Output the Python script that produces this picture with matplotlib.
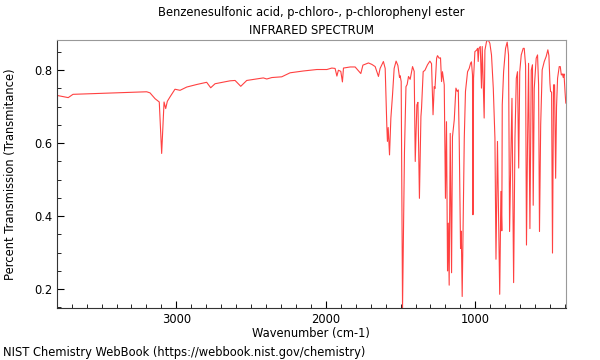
import matplotlib
matplotlib.use("Agg")
import matplotlib.pyplot as plt
from matplotlib.ticker import MultipleLocator
import numpy as np

TITLE = "Benzenesulfonic acid, p-chloro-, p-chlorophenyl ester\nINFRARED SPECTRUM"
FOOTER = "NIST Chemistry WebBook (https://webbook.nist.gov/chemistry)"

# Wavenumber (cm-1) and transmittance.
wavenumber = [
    3798, 3723, 3691, 3198, 3176, 3142, 3114, 3098, 3082, 3071,
    3060, 3042, 3009, 2975, 2930, 2863, 2819, 2797, 2770, 2741,
    2641, 2607, 2569, 2529, 2418, 2395, 2361, 2295, 2239, 2150,
    2060, 1993, 1960, 1938, 1926, 1916, 1900, 1889, 1882, 1837,
    1804, 1766, 1752, 1715, 1692, 1670, 1648, 1637, 1615, 1603,
    1592, 1588, 1583, 1574, 1565, 1554, 1543, 1530, 1518, 1507,
    1503, 1496, 1487, 1474, 1464, 1456, 1447, 1436, 1420, 1409,
    1402, 1391, 1384, 1374, 1364, 1360, 1349, 1337, 1320, 1304,
    1293, 1283, 1275, 1270, 1259, 1253, 1242, 1233, 1226, 1220,
    1208, 1200, 1193, 1186, 1181, 1175, 1168, 1159, 1153, 1141,
    1130, 1121, 1114, 1108, 1099, 1094, 1088, 1081, 1074, 1066,
    1052, 1041, 1032, 1026, 1019, 1016, 1012, 1003, 992, 985,
    981, 976, 967, 959, 954, 941, 936, 925, 914, 903,
    892, 880, 869, 862, 852, 837, 829, 823, 820, 811,
    798, 787, 778, 771, 763, 755, 744, 735, 726, 718,
    710, 703, 693, 680, 673, 664, 658, 651, 644, 635,
    626, 618, 613, 606, 593, 584, 577, 571, 563, 553,
    539, 526, 515, 508, 501, 497, 490, 484, 477, 470,
    463, 457, 450, 439, 432, 425, 418, 412, 407, 400,
    395,
]
transmittance = [
    0.731, 0.725, 0.734, 0.741, 0.738, 0.722, 0.713, 0.572, 0.713, 0.695,
    0.715, 0.727, 0.748, 0.745, 0.754, 0.761, 0.765, 0.767, 0.752, 0.763,
    0.771, 0.772, 0.756, 0.772, 0.779, 0.776, 0.780, 0.782, 0.793, 0.798,
    0.802, 0.802, 0.806, 0.805, 0.784, 0.800, 0.797, 0.768, 0.806, 0.809,
    0.809, 0.791, 0.814, 0.820, 0.816, 0.810, 0.783, 0.805, 0.824, 0.805,
    0.646, 0.605, 0.643, 0.568, 0.669, 0.732, 0.805, 0.825, 0.813, 0.780,
    0.785, 0.769, 0.148, 0.577, 0.755, 0.761, 0.783, 0.775, 0.810, 0.797,
    0.550, 0.705, 0.712, 0.449, 0.673, 0.695, 0.796, 0.800, 0.815, 0.825,
    0.818, 0.678, 0.755, 0.750, 0.833, 0.840, 0.833, 0.834, 0.769, 0.796,
    0.760, 0.449, 0.659, 0.250, 0.381, 0.211, 0.627, 0.245, 0.618, 0.664,
    0.751, 0.742, 0.746, 0.614, 0.312, 0.359, 0.180, 0.395, 0.614, 0.742,
    0.796, 0.805, 0.819, 0.823, 0.787, 0.404, 0.778, 0.851, 0.855, 0.860,
    0.824, 0.860, 0.865, 0.751, 0.865, 0.669, 0.855, 0.879, 0.883, 0.874,
    0.842, 0.751, 0.614, 0.282, 0.605, 0.186, 0.468, 0.360, 0.705, 0.796,
    0.860, 0.877, 0.842, 0.358, 0.550, 0.723, 0.218, 0.614, 0.778, 0.796,
    0.532, 0.796, 0.842, 0.860, 0.860, 0.813, 0.321, 0.600, 0.819, 0.366,
    0.800, 0.815, 0.430, 0.750, 0.833, 0.842, 0.760, 0.358, 0.650, 0.801,
    0.824, 0.838, 0.856, 0.840, 0.764, 0.742, 0.740, 0.299, 0.760, 0.760,
    0.504, 0.700, 0.778, 0.810, 0.810, 0.787, 0.790, 0.780, 0.790, 0.740,
    0.710,
]

FS = 8.3


def plot_spectrum():
    fig = plt.figure(figsize=(6, 3.6), dpi=100)
    ax = fig.add_axes([0.095, 0.144, 0.848, 0.745])

    wn = np.array(wavenumber)
    tr = np.array(transmittance)
    ax.plot(wn, tr, color="#ff2020", linewidth=0.8, alpha=0.85)

    ax.set_xlim(wn.max(), wn.min())
    ax.set_ylim(tr.min(), tr.max())

    ax.xaxis.set_major_locator(MultipleLocator(1000))
    ax.xaxis.set_minor_locator(MultipleLocator(100))
    ax.yaxis.set_major_locator(MultipleLocator(0.2))
    ax.yaxis.set_minor_locator(MultipleLocator(0.05))
    ax.tick_params(which="both", direction="in", top=False, right=False, labelsize=FS)
    ax.tick_params(which="major", length=5)
    ax.tick_params(which="minor", length=3)

    for side in ("top", "right"):
        ax.spines[side].set_color("#999999")
    for side in ("left", "bottom"):
        ax.spines[side].set_color("#333333")

    ax.set_xlabel("Wavenumber (cm-1)", fontsize=FS, labelpad=1)
    ax.set_ylabel("Percent Transmission (Transmitance)", fontsize=FS)
    ax.yaxis.set_label_coords(-0.078, 0.5)
    ax.set_title(TITLE, fontsize=FS, linespacing=1.5, pad=4)
    fig.text(0.005, 0.01, FOOTER, fontsize=FS)

    fig.savefig("out.png", dpi=100)
    plt.close(fig)


if __name__ == "__main__":
    plot_spectrum()
